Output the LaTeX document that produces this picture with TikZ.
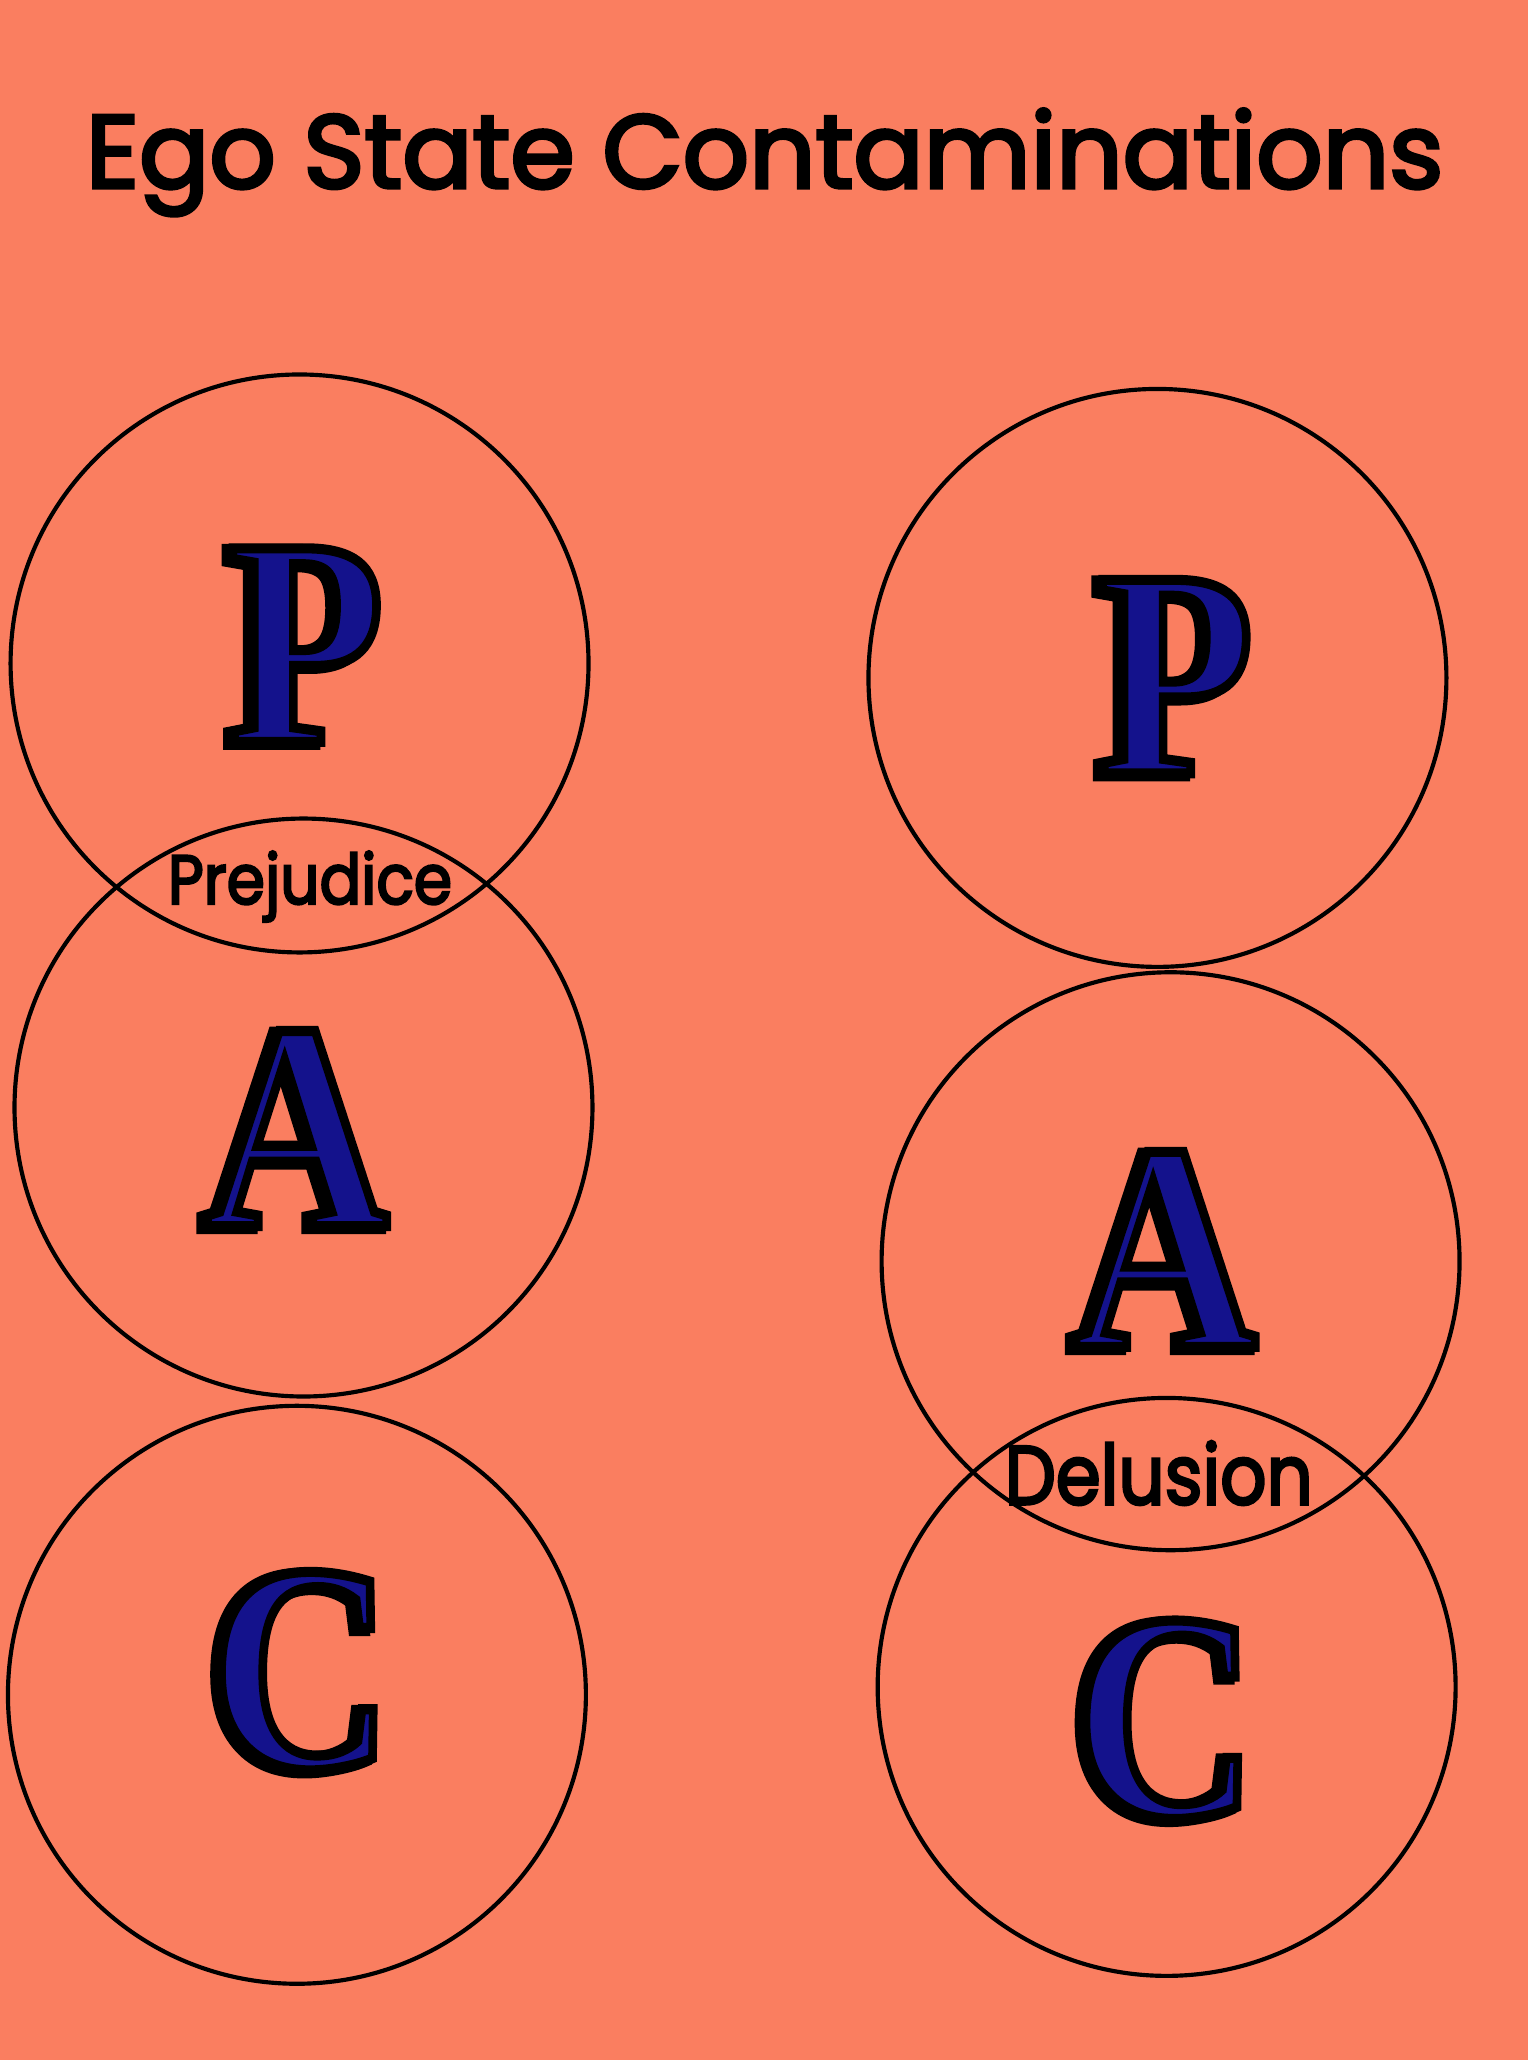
\documentclass[tikz,border=0pt]{standalone}
\usepackage{fontspec}
\setmainfont{Poppins}
\newfontfamily\titlefont{Poppins}[FakeBold=3.5]
\newfontfamily\lensfont{Poppins}[FakeBold=3.5]
\newfontfamily\letfont{Liberation Serif Bold}[FakeBold=3.4]
\newfontfamily\letshadow{Liberation Serif Bold}[FakeBold=4.2]
\definecolor{bg}{RGB}{250,126,96}
\newcommand\egoletter[3]{%
  \node[letter, font=\letshadow\fontsize{128}{128}\selectfont, text=black, xshift=-3pt, yshift=-0.8pt] at (#2) {#3};
  \node[letter] (#1) at (#2) {\special{pdf:bcolor [0.08 0.07 0.55] [0 0 0]}#3\special{pdf:ecolor}};
}
\begin{document}
\begin{tikzpicture}[x=0.02cm, y=-0.02cm,
  ego/.style={circle, draw=black, line width=1.8pt, minimum size=8.8cm, inner sep=0pt},
  letter/.style={font=\letfont\fontsize{128}{128}\selectfont, inner sep=0pt, xscale=0.86},
  title/.style={font=\titlefont\fontsize{45}{45}\selectfont, inner sep=0pt, anchor=base},
  lens/.style={font=\lensfont\fontsize{30}{30}\selectfont, inner sep=0pt, anchor=base}]
\fill[bg] (0,0) rectangle (1163,1568);
\useasboundingbox (0,0) rectangle (1163,1568);
% title
\node[title] (ttl) at (582,143) {Ego State Contaminations};
% left column
\node[ego] (lP) at (228,505) {};
\node[ego] (lA) at (231,843) {};
\node[ego] (lC) at (226,1290) {};
% right column
\node[ego] (rP) at (881,516) {};
\node[ego] (rA) at (891,960) {};
\node[ego] (rC) at (888,1284) {};
% letters
\egoletter{lPt}{233,491}{P}
\egoletter{lAt}{226,859}{A}
\egoletter{lCt}{229,1272}{C}
\egoletter{rPt}{895,515}{P}
\egoletter{rAt}{887,951}{A}
\egoletter{rCt}{887,1309}{C}
% lens labels
\node[lens, xscale=0.89] (prej) at (236,688) {Prejudice};
\node[lens, font=\lensfont\fontsize{36}{36}\selectfont, xscale=0.87] (delu) at (882,1145) {Delusion};
\end{tikzpicture}
\end{document}
